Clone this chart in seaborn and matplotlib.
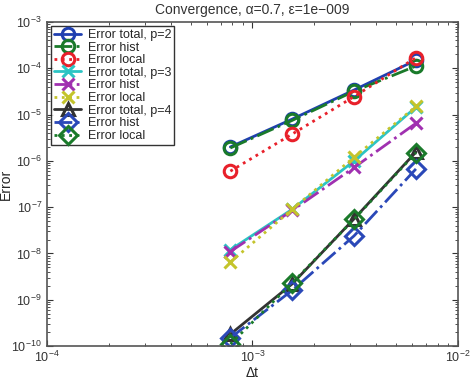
import numpy as np
import pandas as pd
import seaborn as sns
import matplotlib
matplotlib.use("Agg")
import matplotlib.pyplot as plt
from matplotlib.ticker import LogLocator, NullFormatter

# Data
dt = [1/1280, 1/640, 1/320, 1/160]

p2_total = [2.0e-6, 8.0e-6, 3.4e-5, 1.5e-4]
p2_hist = [1.9e-6, 7.5e-6, 3.2e-5, 1.12e-4]
p2_local = [6.0e-7, 3.8e-6, 2.45e-5, 1.7e-4]

p3_total = [1.2e-8, 9.0e-8, 1.0e-6, 1.45e-5]
p3_hist = [1.1e-8, 8.5e-8, 7.2e-7, 6.5e-6]
p3_local = [6.5e-9, 9.0e-8, 1.2e-6, 1.5e-5]

p4_total = [1.8e-10, 2.2e-9, 5.6e-8, 1.55e-6]
p4_hist = [1.5e-10, 1.6e-9, 2.4e-8, 6.7e-7]
p4_local = [1.1e-10, 2.3e-9, 5.5e-8, 1.5e-6]

labels = ['Error total, p=2', 'Error hist', 'Error local',
          'Error total, p=3', 'Error hist', 'Error local',
          'Error total, p=4', 'Error hist', 'Error local']
series = [p2_total, p2_hist, p2_local, p3_total, p3_hist, p3_local,
          p4_total, p4_hist, p4_local]

colors = ['#1f3fb0', '#1a7a2a', '#e8202a', '#2cc4c4', '#a030b0', '#c4c42c',
          '#333333', '#2a48b8', '#1a7a2a']
styles = ['-', '-.', ':', '-', '-.', ':', '-', '-.', ':']
markers = ['o', 'o', 'o', 'x', 'x', 'x', '^', 'D', 'D']

sns.set_style("ticks")
plt.rcParams['font.family'] = ['Liberation Sans', 'DejaVu Sans']
plt.rcParams['mathtext.fontset'] = 'custom'
plt.rcParams['mathtext.rm'] = 'Liberation Sans'

fig = plt.figure(figsize=(4.74, 3.8), dpi=100)
ax = fig.add_axes([0.099, 0.0895, 0.867, 0.8525])

for vals, lab, c, ls, m in zip(series, labels, colors, styles, markers):
    sns.lineplot(x=dt, y=vals, ax=ax, color=c, linestyle=ls, linewidth=2,
                 marker=m, markersize=9, markerfacecolor='none',
                 markeredgecolor=c, markeredgewidth=2.2, label=lab)

ax.set_xscale('log')
ax.set_yscale('log')
ax.set_xlim(1e-4, 1e-2)
ax.set_ylim(1e-10, 1e-3)
ax.xaxis.set_major_locator(LogLocator(base=10, numticks=10))
ax.yaxis.set_major_locator(LogLocator(base=10, numticks=10))
ax.xaxis.set_minor_locator(LogLocator(base=10, subs=np.arange(2, 10), numticks=20))
ax.yaxis.set_minor_locator(LogLocator(base=10, subs=np.arange(2, 10), numticks=20))
ax.xaxis.set_minor_formatter(NullFormatter())
ax.yaxis.set_minor_formatter(NullFormatter())
ax.tick_params(which='both', direction='in', top=True, right=True, labelsize=9, colors='#333333')
ax.tick_params(which='major', length=4)
ax.tick_params(which='minor', length=2)
ax.tick_params(axis='x', which='major', pad=2.5)
for s in ax.spines.values():
    s.set_color('#555555')
    s.set_linewidth(1.2)

ax.set_title('Convergence, \u03b1=0.7, \u03b5=1e\u2212009', fontsize=10, color='#333333', pad=6)
ax.set_xlabel('\u0394t', fontsize=10)
ax.set_ylabel('Error', fontsize=10)
ax.xaxis.set_label_coords(0.5, -0.062)
ax.yaxis.set_label_coords(-0.082, 0.5)

leg = ax.legend(loc='upper left', fontsize=9, frameon=True, fancybox=False,
                borderpad=0.25, labelspacing=0.05, handlelength=2.2,
                handletextpad=0.5, borderaxespad=0.3)
leg.get_frame().set_edgecolor('black')
leg.get_frame().set_linewidth(1.0)

fig.savefig('out.png', dpi=100)
